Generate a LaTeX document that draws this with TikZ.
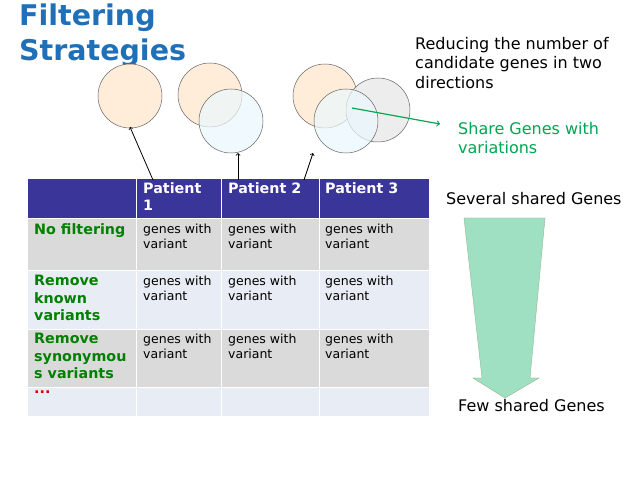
\documentclass[tikz,border=0pt]{standalone}
\usepackage{fontspec}
\setmainfont{DejaVu Sans}
\definecolor{hdc}{HTML}{3A3599}
\definecolor{lgt}{HTML}{E8ECF4}
\definecolor{gry}{HTML}{DADADA}
\definecolor{ttl}{HTML}{1F70B8}
\definecolor{grn}{HTML}{00A651}
\definecolor{arf}{HTML}{A0E0C2}
\begin{document}
\begin{tikzpicture}[x=1pt,y=-1pt,
 circO/.style={draw=black!60,fill=orange!15,line width=0.5pt},
 circB/.style={draw=black!60,fill=cyan!8,fill opacity=0.7,line width=0.5pt},
 circG/.style={draw=black!60,fill=black!8,fill opacity=0.85,line width=0.5pt},
 hd/.style={anchor=north west,text=white,font=\bfseries\fontsize{14.3}{17.5}\selectfont,align=left,inner sep=0},
 rl/.style={anchor=north west,text=green!50!black,font=\bfseries\fontsize{14.3}{17.5}\selectfont,align=left,inner sep=0},
 cl/.style={anchor=north west,font=\fontsize{12.5}{15}\selectfont,align=left,inner sep=0},
 tx/.style={anchor=north west,font=\fontsize{16}{19.5}\selectfont,align=left,inner sep=0}]
\useasboundingbox (0,0) rectangle (638,478);
\fill[white] (0,0) rectangle (638,478);
\node[anchor=north west,inner sep=0,text=ttl,font=\bfseries\fontsize{28.5}{35}\selectfont,align=left] (title) at (19,4) {Filtering\\Strategies};
% circles
\node[circO,circle,minimum size=64pt] (c1) at (130,96) {};
\node[circO,circle,minimum size=64pt] (c2) at (210,95) {};
\node[circB,circle,minimum size=64pt] (c3) at (231,121) {};
\node[circO,circle,minimum size=64pt] (c4) at (325,96) {};
\node[circG,circle,minimum size=64pt] (c5) at (378,110) {};
\node[circB,circle,minimum size=64pt] (c6) at (346,121) {};
% table
\fill[hdc] (28,179) rectangle (429,219);
\fill[gry] (28,219) rectangle (429,271);
\fill[lgt] (28,271) rectangle (429,330);
\fill[gry] (28,330) rectangle (429,388);
\fill[lgt] (28,388) rectangle (429,416);
\foreach \x in {136,221,319} \draw[white,line width=1pt] (\x,179) -- (\x,416);
\foreach \y in {219,271,330,388} \draw[white,line width=1pt] (28,\y) -- (429,\y);
\node[hd] (h1) at (143,182) {Patient\\1};
\node[hd] (h2) at (228,182) {Patient 2};
\node[hd] (h3) at (325,182) {Patient 3};
\node[rl] (r1) at (34,223) {No filtering};
\node[rl] (r2) at (34,275) {Remove\\known\\variants};
\node[rl] (r3) at (34,333) {Remove\\synonymou\\s variants};
\node[anchor=north west,inner sep=0,text=red!85!black,font=\bfseries\fontsize{14.3}{17.5}\selectfont] (r4) at (34,391) {...};
\foreach \y/\n in {224/a,276/b,334/c}{
 \node[cl] (\n1) at (143,\y) {genes with\\variant};
 \node[cl] (\n2) at (228,\y) {genes with\\variant};
 \node[cl] (\n3) at (325,\y) {genes with\\variant};}
\coordinate (p1) at (153,180);
\coordinate (q1) at (130,127);
\coordinate (p2) at (238,180);
\coordinate (q2) at (238,153);
\coordinate (p3) at (304,180);
\coordinate (q3) at (313,153);
\draw[->,line width=0.8pt] (p1) -- (q1);
\draw[->,line width=0.8pt] (p2) -- (q2);
\draw[->,line width=0.8pt] (p3) -- (q3);
% texts
\node[tx] (red) at (415,37) {Reducing the number of\\candidate genes in two\\directions};
\node[tx,text=grn] (share) at (458,122) {Share Genes with\\variations};
\coordinate (g0) at (352,108);
\coordinate (g1) at (440,124);
\draw[->,grn,line width=1.2pt] (g0) -- (g1);
\node[tx] (sev) at (446,192) {Several shared Genes};
\node[tx] (few) at (458,399) {Few shared Genes};
\fill[arf,draw=green!40!black!45] (464,218) -- (545,218) -- (530,378) -- (539,378) -- (505,398) -- (473,378) -- (482,378) -- cycle;
\end{tikzpicture}
\end{document}
